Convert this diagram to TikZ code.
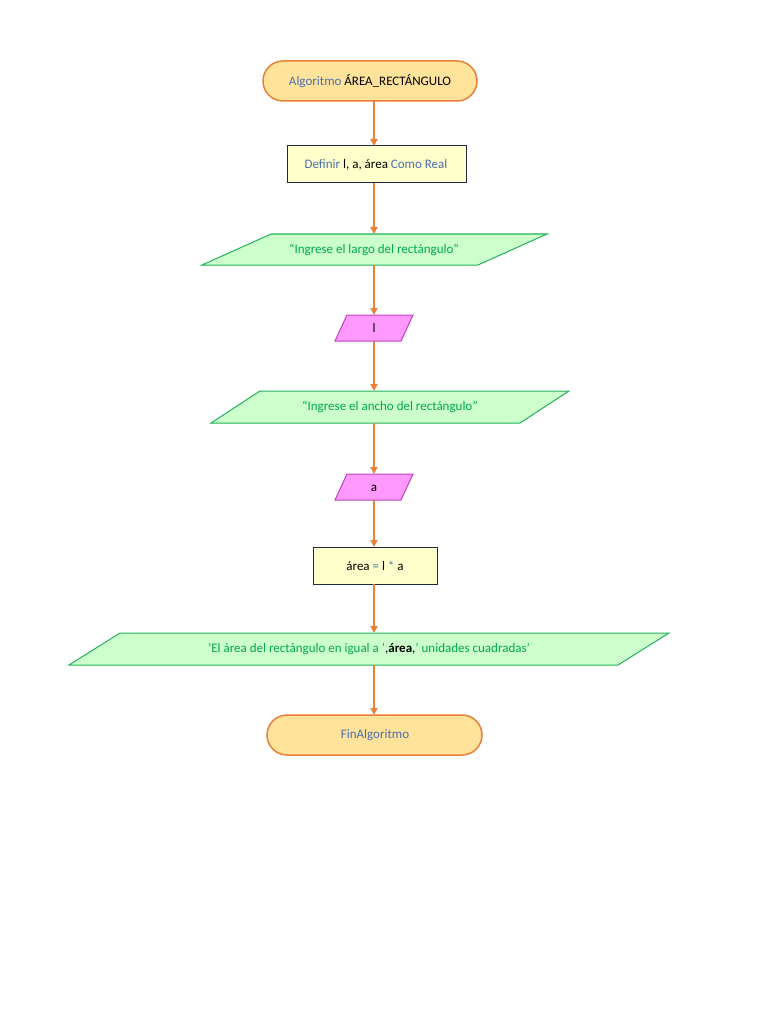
\documentclass[tikz,border=0pt]{standalone}
\usepackage{fontspec}
\setmainfont{Carlito}
\usetikzlibrary{arrows.meta}
\definecolor{orl}{HTML}{E8803A}
\definecolor{term}{HTML}{FFE39A}
\definecolor{rectf}{HTML}{FFFFCC}
\definecolor{navy}{HTML}{1F2A44}
\definecolor{parf}{HTML}{CCFFCC}
\definecolor{parb}{HTML}{22B35A}
\definecolor{grt}{HTML}{00A84F}
\definecolor{pinkf}{HTML}{FF99FF}
\definecolor{pinkb}{HTML}{C040C0}
\definecolor{bl}{HTML}{4A6FB0}
\begin{document}
\begin{tikzpicture}[x=1pt,y=-1pt,font=\fontsize{13}{15}\selectfont,
  termbox/.style={draw=orl,line width=1.5pt,fill=term,rounded corners=20pt},
  rectbox/.style={draw=navy,line width=1pt,fill=rectf},
  parbox/.style={draw=parb,line width=1pt,fill=parf},
  pinkbox/.style={draw=pinkb,line width=1pt,fill=pinkf},
  arr/.style={draw=orl,line width=1.8pt,-{Triangle[length=7pt,width=7pt]}}]
\useasboundingbox (0,0) rectangle (768,1024);
% shapes
\draw[termbox] (263,61) rectangle (477,101);
\node (t1) at (370,81) {\textcolor{bl}{Algoritmo} ÁREA\_RECTÁNGULO};
\coordinate (t1b) at (374,101);
\draw[rectbox] (287,146) rectangle (466,183);
\node (d) at (376,165) {\textcolor{bl}{Definir} l, a, área \textcolor{bl}{Como Real}};
\coordinate (dt) at (374,146); \coordinate (db) at (374,183);
\draw[parbox] (202,265) -- (478,265) -- (547,234) -- (271,234) -- cycle;
\node (p1) at (374,250) {\textcolor{grt}{“Ingrese el largo del rectángulo”}};
\coordinate (p1t) at (374,234); \coordinate (p1b) at (374,265);
\draw[pinkbox] (335,341) -- (401,341) -- (413,315) -- (347,315) -- cycle;
\node (l) at (374,328) {l};
\coordinate (lt) at (374,315); \coordinate (lb) at (374,341);
\draw[parbox] (211,423) -- (520,423) -- (569,391) -- (260,391) -- cycle;
\node (p2) at (390,407) {\textcolor{grt}{“Ingrese el ancho del rectángulo”}};
\coordinate (p2t) at (374,391); \coordinate (p2b) at (374,423);
\draw[pinkbox] (335,500) -- (401,500) -- (413,474) -- (347,474) -- cycle;
\node (a) at (374,488) {a};
\coordinate (at) at (374,474); \coordinate (ab) at (374,500);
\draw[rectbox] (313,547) rectangle (437,584);
\node (c) at (375,566) {área \textcolor{bl}{=} l \textcolor{bl}{*} a};
\coordinate (ct) at (374,547); \coordinate (cb) at (374,584);
\draw[parbox] (69,665) -- (618,665) -- (669,633) -- (120,633) -- cycle;
\node (p3) at (369,649) {\textcolor{grt}{'El área del rectángulo en igual a '}\textcolor{black}{,\textbf{área},}\textcolor{grt}{' unidades cuadradas'}};
\coordinate (p3t) at (374,633); \coordinate (p3b) at (374,665);
\draw[termbox] (267,715) rectangle (482,755);
\node (t2) at (375,735) {\textcolor{bl}{FinAlgoritmo}};
\coordinate (t2t) at (374,715);
% arrows
\draw[arr] (t1b) -- (dt);
\draw[arr] (db) -- (p1t);
\draw[arr] (p1b) -- (lt);
\draw[arr] (lb) -- (p2t);
\draw[arr] (p2b) -- (at);
\draw[arr] (ab) -- (ct);
\draw[arr] (cb) -- (p3t);
\draw[arr] (p3b) -- (t2t);
\end{tikzpicture}
\end{document}
